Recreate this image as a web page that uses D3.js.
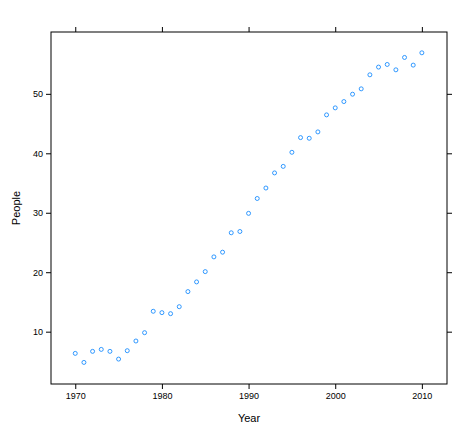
<!DOCTYPE html>
<html><head><meta charset="utf-8">
<script src="https://cdn.jsdelivr.net/npm/d3@7"></script>
<style>body{margin:0;background:#fff;font-family:Arial,"Liberation Sans",sans-serif;}</style>
</head><body><svg id="chart" width="474" height="439"></svg>
<script>
var years = d3.range(1970, 2011);
var people = [6.35, 4.83, 6.69, 7.02, 6.69, 5.39, 6.8, 8.43, 9.83, 13.43,
	13.2, 13.03, 14.2, 16.74, 18.37, 20.1, 22.58, 23.37, 26.63, 26.85,
	29.9, 32.4, 34.16, 36.7, 37.8, 40.17, 42.64, 42.53, 43.6, 46.46,
	47.64, 48.7, 49.94, 50.84, 53.2, 54.5, 54.94, 54.04, 56.12, 54.83, 56.9];
var xTicks = [1970, 1980, 1990, 2000, 2010];
var yTicks = [10, 20, 30, 40, 50];

var panelLeft = 51, panelRight = 447, panelTop = 32, panelBottom = 384;
var svg = d3.select('#chart');
var x = d3.scaleLinear().domain([1967.2, 2012.9]).range([panelLeft, panelRight]);
var y = d3.scaleLinear().domain([1.2, 60.4]).range([panelBottom, panelTop]);

function styleAxis(g, labels){
	g.select('.domain').remove();
	g.selectAll('line').attr('stroke', '#000');
	g.selectAll('text').attr('font-size', 9).attr('fill', '#000');
	if(!labels) g.selectAll('text').remove();
}
svg.append('g').attr('transform', 'translate(0,' + panelBottom + ')')
	.call(d3.axisBottom(x).tickValues(xTicks).tickFormat(d3.format('d')).tickSize(5).tickPadding(4))
	.call(styleAxis, true);
svg.append('g').attr('transform', 'translate(0,' + panelTop + ')')
	.call(d3.axisTop(x).tickValues(xTicks).tickSize(5))
	.call(styleAxis, false);
svg.append('g').attr('transform', 'translate(' + panelLeft + ',0)')
	.call(d3.axisLeft(y).tickValues(yTicks).tickSize(5).tickPadding(3))
	.call(styleAxis, true);
svg.append('g').attr('transform', 'translate(' + panelRight + ',0)')
	.call(d3.axisRight(y).tickValues(yTicks).tickSize(5))
	.call(styleAxis, false);

svg.append('rect').attr('x', panelLeft).attr('y', panelTop)
	.attr('width', panelRight - panelLeft).attr('height', panelBottom - panelTop)
	.attr('fill', 'none').attr('stroke', '#000').attr('stroke-width', 1);

svg.append('g').selectAll('circle').data(years).enter()
	.append('circle')
	.attr('cx', function(d){ return x(d); })
	.attr('cy', function(d, i){ return y(people[i]); })
	.attr('r', 2)
	.attr('fill', 'none')
	.attr('stroke', '#0080ff')
	.attr('stroke-width', 0.8);

svg.append('text').attr('x', (panelLeft + panelRight) / 2).attr('y', 422)
	.attr('text-anchor', 'middle').attr('font-size', 11).text('Year');
svg.append('text').attr('transform', 'translate(20,' + ((panelTop + panelBottom) / 2) + ') rotate(-90)')
	.attr('text-anchor', 'middle').attr('font-size', 11).text('People');
</script></body></html>
